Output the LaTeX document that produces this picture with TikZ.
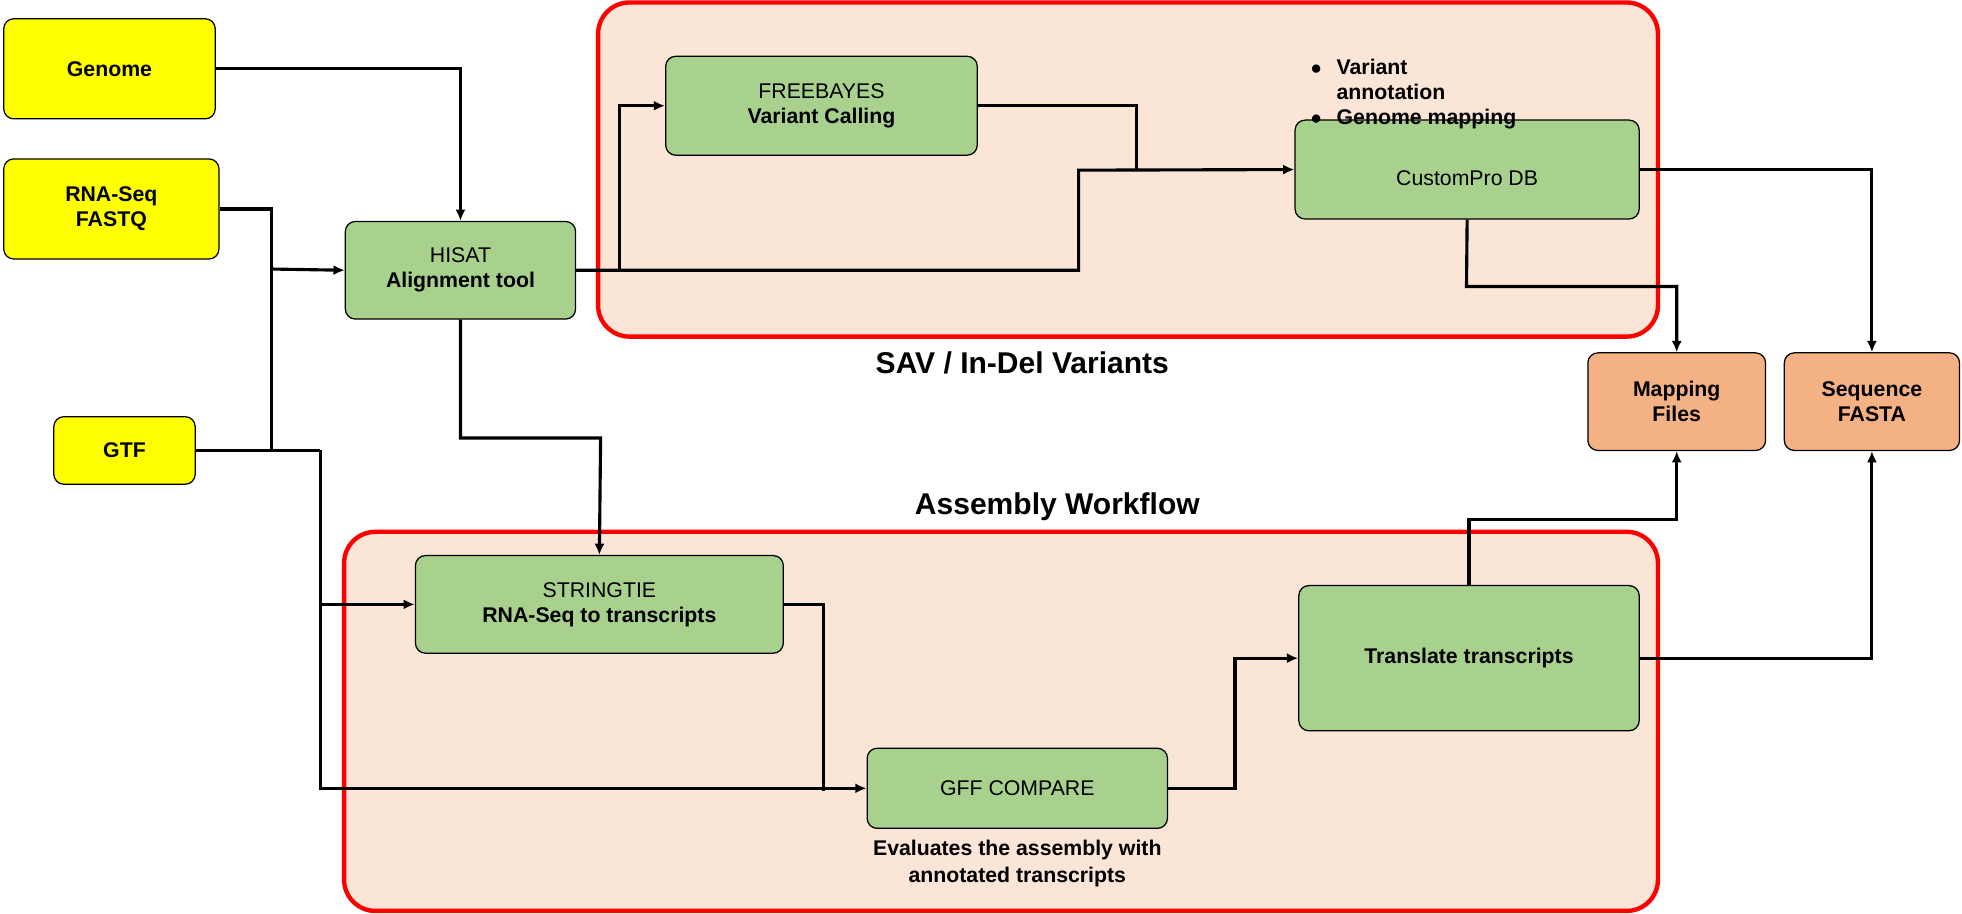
\documentclass[tikz,border=0pt]{standalone}
\usepackage{fontspec}
\setmainfont{Liberation Sans}
\usetikzlibrary{arrows.meta}
\definecolor{yel}{HTML}{FFFF00}
\definecolor{grn}{HTML}{A9D18E}
\definecolor{org}{HTML}{F4B183}
\definecolor{pnk}{HTML}{FBE5D6}
\begin{document}
\begin{tikzpicture}[x=1pt,y=-1pt,
 box/.style={draw=black,line width=1pt,rounded corners=8pt,align=center,font=\fontsize{17}{20}\selectfont,inner sep=0pt},
 inp/.style={box,fill=yel,font=\bfseries\fontsize{17}{20}\selectfont},
 tool/.style={box,fill=grn},
 outbox/.style={box,fill=org,font=\bfseries\fontsize{17}{20}\selectfont},
 grp/.style={draw=red,line width=3.5pt,fill=pnk,rounded corners=25pt},
 con/.style={line width=2.5pt},
 arr/.style={con,-{Latex[length=9pt,width=8pt]}}]
\useasboundingbox (0,0) rectangle (1568,730);
\draw[grp] (478,2) rectangle (1325,269);
\draw[grp] (275,425) rectangle (1325,728);
\node[font=\bfseries\fontsize{24}{28}\selectfont] (sav) at (817,290) {SAV / In-Del Variants};
\node[font=\bfseries\fontsize{24}{28}\selectfont] (asm) at (845,405) {Assembly Workflow};
\node[inp,minimum width=169pt,minimum height=80pt] (genome) at (87.5,55) {Genome};
\node[inp,minimum width=172pt,minimum height=80pt] (rna) at (89,167) {RNA-Seq\\FASTQ};
\node[inp,minimum width=113pt,minimum height=54pt] (gtf) at (99.5,360) {GTF};
\node[tool,minimum width=184pt,minimum height=78pt] (hisat) at (368,216) {HISAT\\\textbf{Alignment tool}};
\node[tool,minimum width=249pt,minimum height=79pt] (free) at (656.5,84.5) {FREEBAYES\\\textbf{Variant Calling}};
\node[tool,minimum width=275pt,minimum height=79pt] (cpdb) at (1172.5,135.5) {\\[6pt]CustomPro DB};
\node[anchor=north west,align=left,font=\bfseries\fontsize{17}{20}\selectfont,inner sep=0pt] (bul) at (1068,47) {%
\llap{$\bullet$\hspace{12pt}}Variant\\annotation\\\llap{$\bullet$\hspace{12pt}}Genome mapping};
\node[outbox,minimum width=142pt,minimum height=78pt] (map) at (1340,321) {Mapping\\Files};
\node[outbox,minimum width=140pt,minimum height=78pt] (fasta) at (1496,321) {Sequence\\FASTA};
\node[tool,minimum width=294pt,minimum height=78pt] (str) at (479,483) {STRINGTIE\\\textbf{RNA-Seq to transcripts}};
\node[tool,minimum width=240pt,minimum height=64pt] (gff) at (813,630) {GFF COMPARE};
\node[font=\bfseries\fontsize{17}{21}\selectfont,align=center] (eval) at (813,690) {Evaluates the assembly with\\annotated transcripts};
\node[tool,minimum width=272pt,minimum height=116pt,font=\bfseries\fontsize{17}{20}\selectfont] (tr) at (1174,526) {Translate transcripts};
\coordinate (j1) at (217,215);
\coordinate (j2) at (256,360);
\coordinate (j3) at (908,136);
\coordinate (j4) at (658,632);
\draw[arr] (genome.east) -- (368,55) -- (hisat.north);
\draw[con] (rna.east) -- (217,167) -- (j1);
\draw[arr] (j1) -- (hisat.west);
\draw[con] (gtf.east) -- (j2);
\draw[con] (217,360) -- (j1);
\draw[arr] (j2) |- (str.west);
\draw[arr] (j2) |- (gff.west);
\draw[arr] (hisat.east) -- (495,216) |- (free.west);
\draw[arr] (hisat.east) -- (862,216) -- (862,136) -- (cpdb.west);
\draw[con] (free.east) -| (j3);
\draw[arr] (hisat.south) -- (368,350) -- (480,350) -- (str.north);
\draw[con] (str.east) -| (j4);
\draw[arr] (gff.east) -- (987,630) |- (tr.west);
\draw[arr] (tr.north) -- (1174,415) -| (map.south);
\draw[arr] (tr.east) -| (fasta.south);
\draw[arr] (cpdb.south) -- (1172,229) -| (map.north);
\draw[arr] (cpdb.east) -| (fasta.north);
\end{tikzpicture}
\end{document}
